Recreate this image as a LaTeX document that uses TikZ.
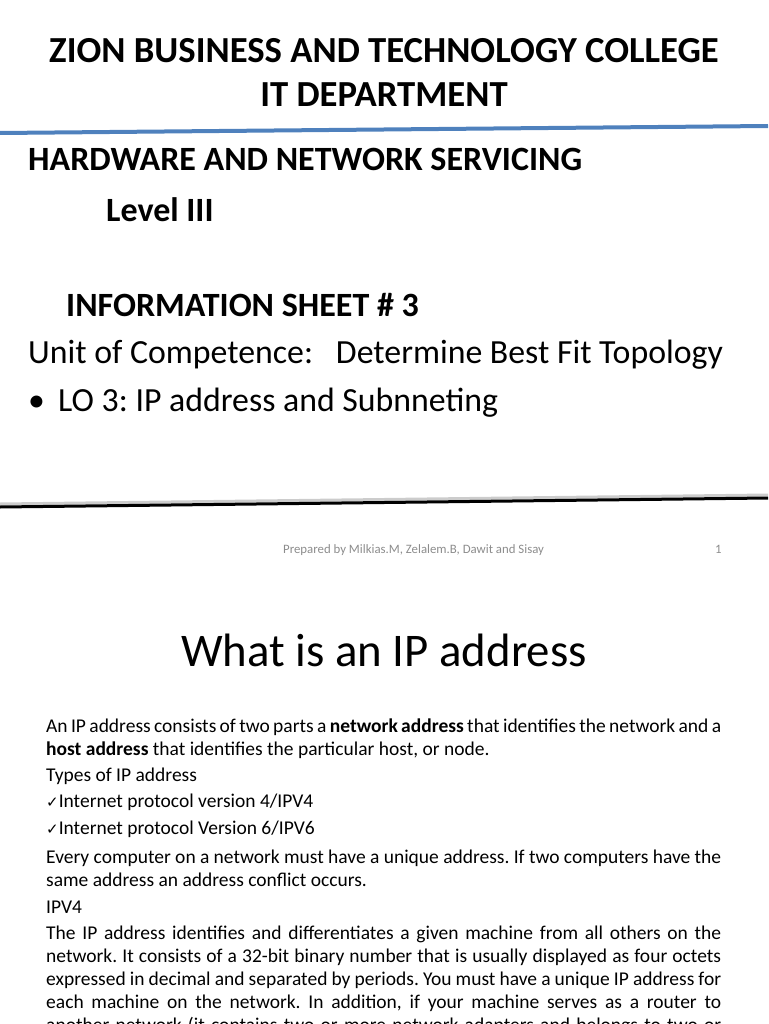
\documentclass[tikz,border=0pt]{standalone}
\usepackage{fontspec}
\setmainfont{Carlito}
\newfontfamily\dvs{DejaVu Sans}
\definecolor{blueline}{HTML}{4F81BD}
\definecolor{foot}{HTML}{8C8C8C}
\newcommand\jl[1]{\makebox[675pt][s]{#1}}
\frenchspacing
\begin{document}
\begin{tikzpicture}[x=1pt,y=-1pt,
  txt/.style={anchor=base west,inner sep=0pt},
  body/.style={txt,font=\fontsize{19.5}{23}\selectfont\frenchspacing},
  head/.style={txt,font=\fontsize{34}{40}\selectfont\bfseries}]
\useasboundingbox (0,0) rectangle (768,1024);
\clip (0,0) rectangle (768,1024);
\node[anchor=base,inner sep=0pt,font=\fontsize{36.7}{42}\selectfont\bfseries] (t1) at (384,63) {ZION BUSINESS AND TECHNOLOGY COLLEGE};
\node[anchor=base,inner sep=0pt,font=\fontsize{36.7}{42}\selectfont\bfseries] (t2) at (384,107) {IT DEPARTMENT};
\coordinate (b1) at (0,133); \coordinate (b2) at (768,126);
\draw[blueline,line width=4pt] (b1) -- (b2);
\node[head] (h1) at (28,171) {HARDWARE AND NETWORK SERVICING};
\node[head] (h2) at (106,222) {Level III};
\node[head] (h3) at (66,316) {INFORMATION SHEET \# 3};
\node[txt,font=\fontsize{33.8}{40}\selectfont] (h4) at (28,363) {Unit of Competence:\ \ \ Determine Best Fit Topology};
\node[txt,font=\fontsize{33.8}{40}\selectfont] (h5a) at (28,411) {\textbullet};
\node[txt,font=\fontsize{33.8}{40}\selectfont] (h5) at (58,411) {LO 3: IP address and Subnneting};
\coordinate (k1) at (0,507); \coordinate (k2) at (768,498);
\draw[gray!40,line width=3pt] ([yshift=3pt]k1) -- ([yshift=3pt]k2);
\draw[black,line width=3pt] (k1) -- (k2);
\node[txt,font=\fontsize{12.8}{15}\selectfont,text=foot] (f1) at (283,553) {Prepared by Milkias.M, Zelalem.B, Dawit and Sisay};
\node[txt,font=\fontsize{12.8}{15}\selectfont,text=foot] (f2) at (715,553) {1};
\node[anchor=base,inner sep=0pt,font=\fontsize{46.8}{54}\selectfont] (w) at (384,666) {What is an IP address};
\node[body] (l1) at (46,732) {\jl{An IP address consists of two parts a \textbf{network address} that identifies the network and a}};
\node[body] (l2) at (46,755) {\textbf{host address} that identifies the particular host, or node.};
\node[body] (l3) at (46,781) {Types of IP address};
\node[body] (l4) at (46,807) {{\dvs\fontsize{15}{16}\selectfont ✓}Internet protocol version 4/IPV4};
\node[body] (l5) at (46,834) {{\dvs\fontsize{15}{16}\selectfont ✓}Internet protocol Version 6/IPV6};
\node[body] (l6) at (46,863) {\jl{Every computer on a network must have a unique address. If two computers have the}};
\node[body] (l7) at (46,886) {same address an address conflict occurs.};
\node[body] (l8) at (46,913) {IPV4};
\node[body] (l9) at (46,939) {\jl{The IP address identifies and differentiates a given machine from all others on the}};
\node[body] (l10) at (46,962) {\jl{network. It consists of a 32-bit binary number that is usually displayed as four octets}};
\node[body] (l11) at (46,985) {\jl{expressed in decimal and separated by periods. You must have a unique IP address for}};
\node[body] (l12) at (46,1008) {\jl{each machine on the network. In addition, if your machine serves as a router to}};
\node[body] (l13) at (46,1031) {\jl{another network (it contains two or more network adapters and belongs to two or}};
\end{tikzpicture}
\end{document}
